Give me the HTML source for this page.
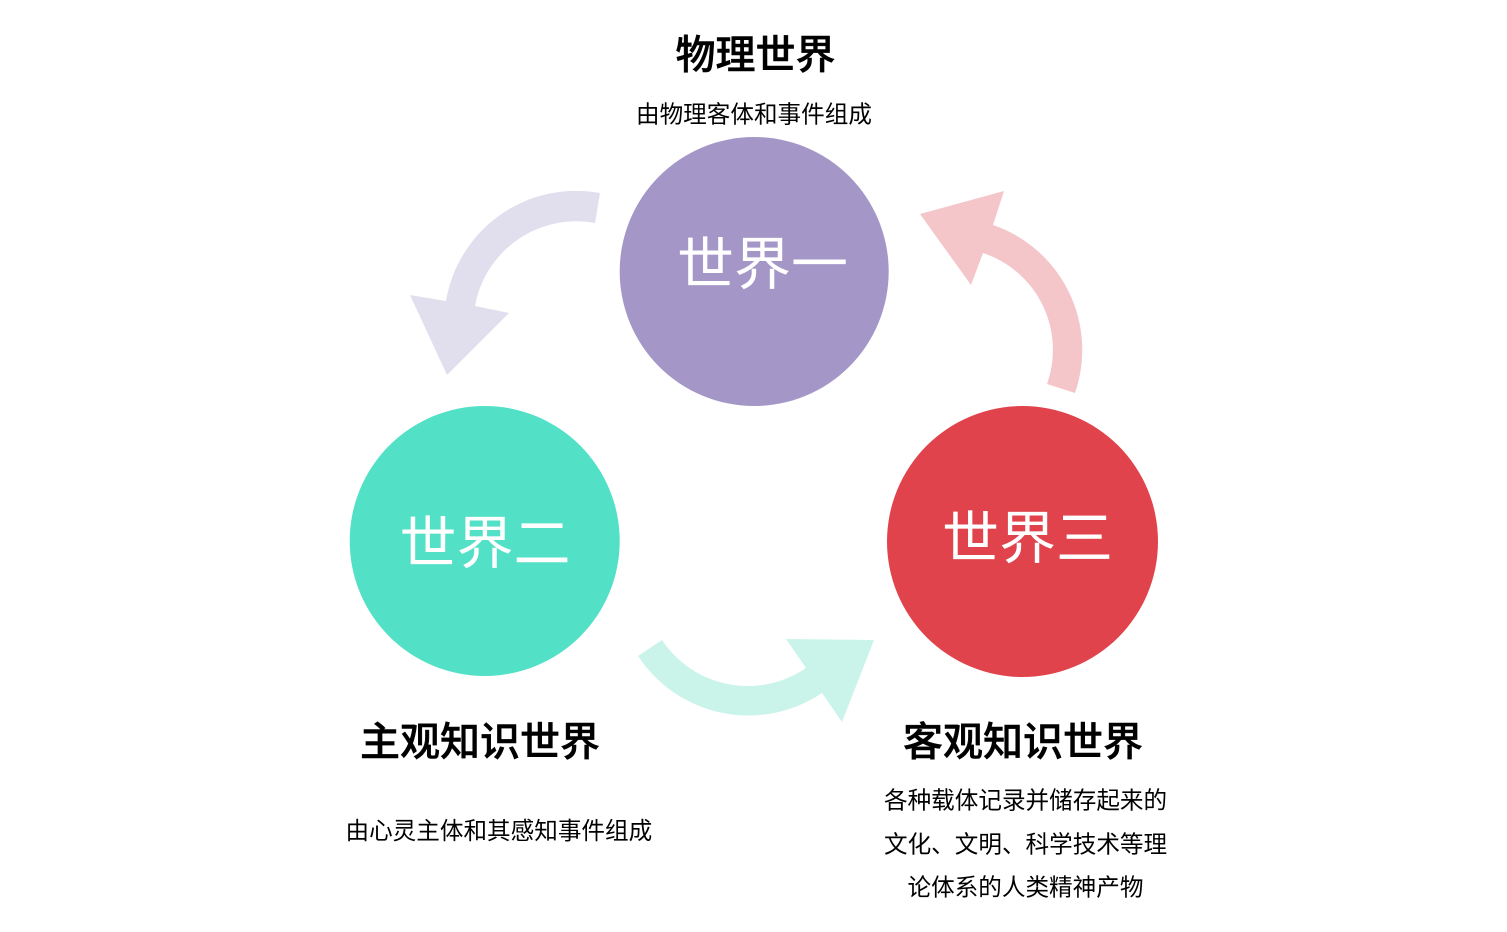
<!DOCTYPE html>
<html lang="zh">
<head>
<meta charset="utf-8">
<title>三个世界</title>
<style>
html,body{margin:0;padding:0;background:#fff;width:1507px;height:932px;overflow:hidden}
svg{display:block}
text{font-family:"Liberation Sans","Noto Sans CJK SC",sans-serif;fill:#000}
.t{font-size:40px;font-weight:500;stroke:#000;stroke-width:.5px}
.s{font-size:23.6px}
.c{font-size:57px;fill:#fff;font-weight:400}
</style>
</head>
<body>
<svg width="1507" height="932" viewBox="0 0 1507 932" xmlns="http://www.w3.org/2000/svg">
<rect width="1507" height="932" fill="#fff"/>
<circle cx="754.2" cy="271.5" r="134.5" fill="#a497c8"/>
<circle cx="484.7" cy="541" r="135" fill="#52e0c6"/>
<circle cx="1022.5" cy="541.5" r="135.5" fill="#e0434c"/>
<path d="M600 193 A132 132 0 0 0 446 301 L410 295 L447 375 L509 313 L475 306 A103 103 0 0 1 595 223 Z" fill="#e1dfed"/>
<path d="M1075 393 A132 132 0 0 0 993 225 L1004 191 L920 214 L971 285 L983 253 A102 102 0 0 1 1047 384 Z" fill="#f4c6c9"/>
<path d="M638 656 A132 132 0 0 0 822 693 L842 722 L874 640 L786 639 L806 668 A103 103 0 0 1 662 640 Z" fill="#caf4ea"/>
<text class="t" x="675.5" y="68.5">物理世界</text>
<text class="s" x="636" y="122.5">由物理客体和事件组成</text>
<text class="c" x="677" y="284">世界一</text>
<text class="c" x="399.5" y="563">世界二</text>
<text class="c" x="942" y="558">世界三</text>
<text class="t" x="360" y="755.5">主观知识世界</text>
<text class="s" x="345.5" y="839">由心灵主体和其感知事件组成</text>
<text class="t" x="903" y="755.5">客观知识世界</text>
<text class="s" x="884" y="808.5">各种载体记录并储存起来的</text>
<text class="s" x="884" y="852.5">文化、文明、科学技术等理</text>
<text class="s" x="907.5" y="895.5">论体系的人类精神产物</text>
</svg>
</body>
</html>
